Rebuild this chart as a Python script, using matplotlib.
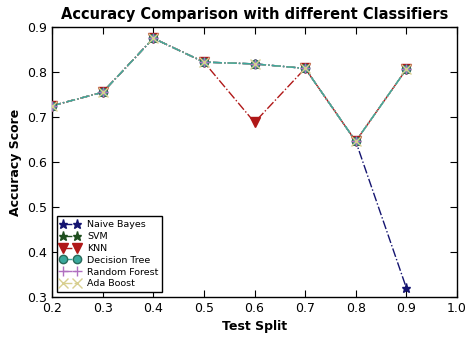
import matplotlib
matplotlib.use("Agg")
import matplotlib.pyplot as plt
from matplotlib.lines import Line2D

splits = [0.2, 0.3, 0.4, 0.5, 0.6, 0.7, 0.8, 0.9]
naive_bayes = [0.725, 0.755, 0.875, 0.822, 0.818, 0.808, 0.646, 0.320]
svm = [0.725, 0.755, 0.875, 0.822, 0.818, 0.808, 0.646, 0.806]
knn = [0.725, 0.755, 0.875, 0.822, 0.688, 0.808, 0.646, 0.806]
decision_tree = [0.725, 0.755, 0.875, 0.822, 0.818, 0.808, 0.646, 0.806]
random_forest = [0.725, 0.755, 0.875, 0.822, 0.818, 0.808, 0.646, 0.806]
ada_boost = [0.725, 0.755, 0.875, 0.822, 0.818, 0.808, 0.646, 0.806]

series = [
    ("Naive Bayes", naive_bayes, "*", "#141470", 2),
    ("SVM", svm, "*", "#1f4f1f", 2),
    ("KNN", knn, "v", "#b01818", 2),
    ("Decision Tree", decision_tree, "o", "#3aa89c", 6),
    ("Random Forest", random_forest, "+", "#b070c0", 3),
    ("Ada Boost", ada_boost, "x", "#d8cf90", 4),
]

fig = plt.figure(figsize=(4.74, 3.42), dpi=100)
ax = fig.add_axes([0.110, 0.132, 0.854, 0.789])

handles = []
for i, (name, vals, m, c, z) in enumerate(series):
    kw = dict(marker=m, color=c, markersize=6.5)
    if m in ("+", "x"):
        kw["markeredgewidth"] = 1.0
    elif m == "o":
        kw["markeredgecolor"] = "#2a6a5a"
        kw["markersize"] = 6
    else:
        kw["markeredgecolor"] = c
    # line
    ax.plot(splits, vals, linestyle="-.", color=c, linewidth=1.0, zorder=z)
    # markers in natural order on top
    ax.plot(splits, vals, linestyle="none", zorder=10 + i, **kw)
    handles.append(Line2D([], [], linestyle="-.", linewidth=1.0, label=name, **kw))

ax.set_xlim(0.2, 1.0)
ax.set_ylim(0.3, 0.9)
ax.set_xticks([0.2, 0.3, 0.4, 0.5, 0.6, 0.7, 0.8, 0.9, 1.0])
ax.set_yticks([0.3, 0.4, 0.5, 0.6, 0.7, 0.8, 0.9])
ax.tick_params(direction="in", top=True, right=True, labelsize=9, length=5)
for s in ax.spines.values():
    s.set_linewidth(1.0)

ax.set_title("Accuracy Comparison with different Classifiers", fontsize=10.5, fontweight="bold")
ax.set_xlabel("Test Split", fontsize=9, fontweight="bold")
ax.set_ylabel("Accuracy Score", fontsize=9, fontweight="bold")

leg = ax.legend(handles=handles, loc="lower left", fontsize=6.8, numpoints=2, fancybox=False,
                framealpha=1, edgecolor="black", borderpad=0.4, labelspacing=0.3,
                handlelength=2.0)
leg.get_frame().set_linewidth(1.0)
leg.set_zorder(20)

fig.savefig("out.png", dpi=100)
